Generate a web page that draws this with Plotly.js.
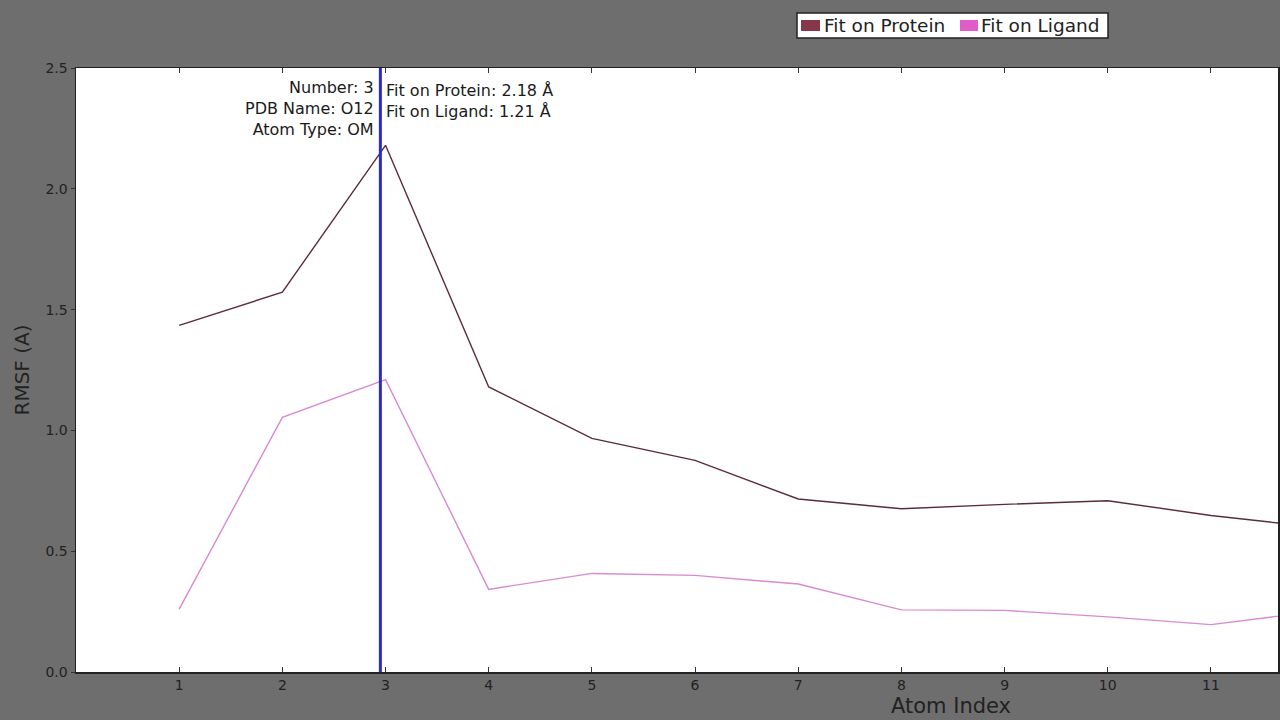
<!DOCTYPE html>
<html>
<head>
<meta charset="utf-8">
<script src="https://cdn.plot.ly/plotly-3.0.1.min.js"></script>
<style>html,body{margin:0;padding:0;background:#6e6e6e;}#chart{width:1280px;height:720px;}</style>
</head>
<body>
<div id="chart"></div>
<script>
const atomIndex = [1, 2, 3, 4, 5, 6, 7, 8, 9, 10, 11, 12];
const fitOnProtein = [1.435, 1.572, 2.18, 1.18, 0.967, 0.876, 0.716, 0.676, 0.694, 0.709, 0.648, 0.60];
const fitOnLigand = [0.26, 1.054, 1.21, 0.342, 0.408, 0.40, 0.364, 0.257, 0.255, 0.228, 0.196, 0.25];
const seriesNames = ['Fit on Protein', 'Fit on Ligand'];
const xTickVals = [1, 2, 3, 4, 5, 6, 7, 8, 9, 10, 11];
const yTickVals = [0.0, 0.5, 1.0, 1.5, 2.0, 2.5];
const cursorX = 2.95;
const infoLeft = 'Number: 3<br>PDB Name: O12<br>Atom Type: OM';
const infoRight = 'Fit on Protein: 2.18 Å<br>Fit on Ligand: 1.21 Å';

const lineColors = ['#5a2c38', '#d98ad2'];
const swatchColors = ['#86374a', '#e05cc8'];

const traces = [
  {x: atomIndex, y: fitOnProtein, type: 'scatter', mode: 'lines', name: seriesNames[0],
   line: {color: lineColors[0], width: 1.4}},
  {x: atomIndex, y: fitOnLigand, type: 'scatter', mode: 'lines', name: seriesNames[1],
   line: {color: lineColors[1], width: 1.4}}
];

// pixel -> paper helpers (plot area: x 76..1278, y 68..672)
const px = v => (v - 76) / 1202;
const py = v => (672 - v) / 604;

const layout = {
  width: 1280, height: 720,
  paper_bgcolor: '#6e6e6e', plot_bgcolor: '#ffffff',
  margin: {l: 76, r: 2, t: 68, b: 48},
  font: {family: 'DejaVu Sans', color: '#222'},
  showlegend: false,
  xaxis: {range: [0, 11.65], tickvals: xTickVals, ticks: 'inside', ticklen: 5, tickcolor: '#333',
    showline: true, linecolor: '#222', linewidth: 1.5, mirror: 'allticks', showgrid: false, zeroline: false,
    tickfont: {size: 14, color: '#222'}},
  yaxis: {range: [0, 2.5], tickvals: yTickVals, tickformat: '.1f', ticks: 'outside', ticklen: 4, tickcolor: '#333',
    showline: true, linecolor: '#222', linewidth: 1.5, mirror: true, showgrid: false, zeroline: false,
    tickfont: {size: 14, color: '#222'},
    title: {text: 'RMSF (A)', font: {size: 20, color: '#222'}, standoff: 10}},
  shapes: [
    {type: 'line', xref: 'x', yref: 'paper', x0: cursorX, x1: cursorX, y0: 0, y1: 1,
     line: {color: '#2a2ad0', width: 3}},
    // legend box
    {type: 'rect', xref: 'paper', yref: 'paper', x0: px(797), x1: px(1108), y0: py(38), y1: py(13),
     fillcolor: '#ffffff', line: {color: '#222', width: 1.5}, layer: 'above'},
    {type: 'rect', xref: 'paper', yref: 'paper', x0: px(801), x1: px(820), y0: py(31), y1: py(20),
     fillcolor: swatchColors[0], line: {width: 0}, layer: 'above'},
    {type: 'rect', xref: 'paper', yref: 'paper', x0: px(960), x1: px(978), y0: py(31), y1: py(20),
     fillcolor: swatchColors[1], line: {width: 0}, layer: 'above'}
  ],
  annotations: [
    {xref: 'x', yref: 'paper', x: cursorX, xshift: -4, y: py(76), xanchor: 'right', yanchor: 'top',
     text: infoLeft, showarrow: false, align: 'right', font: {size: 16, color: '#1a1a1a'}},
    {xref: 'x', yref: 'paper', x: cursorX, xshift: 4, y: py(79), xanchor: 'left', yanchor: 'top',
     text: infoRight, showarrow: false, align: 'left', font: {size: 16, color: '#1a1a1a'}},
    {xref: 'paper', yref: 'paper', x: 0.728, y: 0, yshift: -34, xanchor: 'center', yanchor: 'middle',
     text: 'Atom Index', showarrow: false, font: {size: 21, color: '#222'}},
    {xref: 'paper', yref: 'paper', x: px(822), y: py(25.5), xanchor: 'left', yanchor: 'middle',
     text: seriesNames[0], showarrow: false, font: {size: 18.5, color: '#222'}},
    {xref: 'paper', yref: 'paper', x: px(979), y: py(25.5), xanchor: 'left', yanchor: 'middle',
     text: seriesNames[1], showarrow: false, font: {size: 18.5, color: '#222'}}
  ]
};

Plotly.newPlot('chart', traces, layout, {displayModeBar: false, staticPlot: true});
</script>
</body>
</html>
